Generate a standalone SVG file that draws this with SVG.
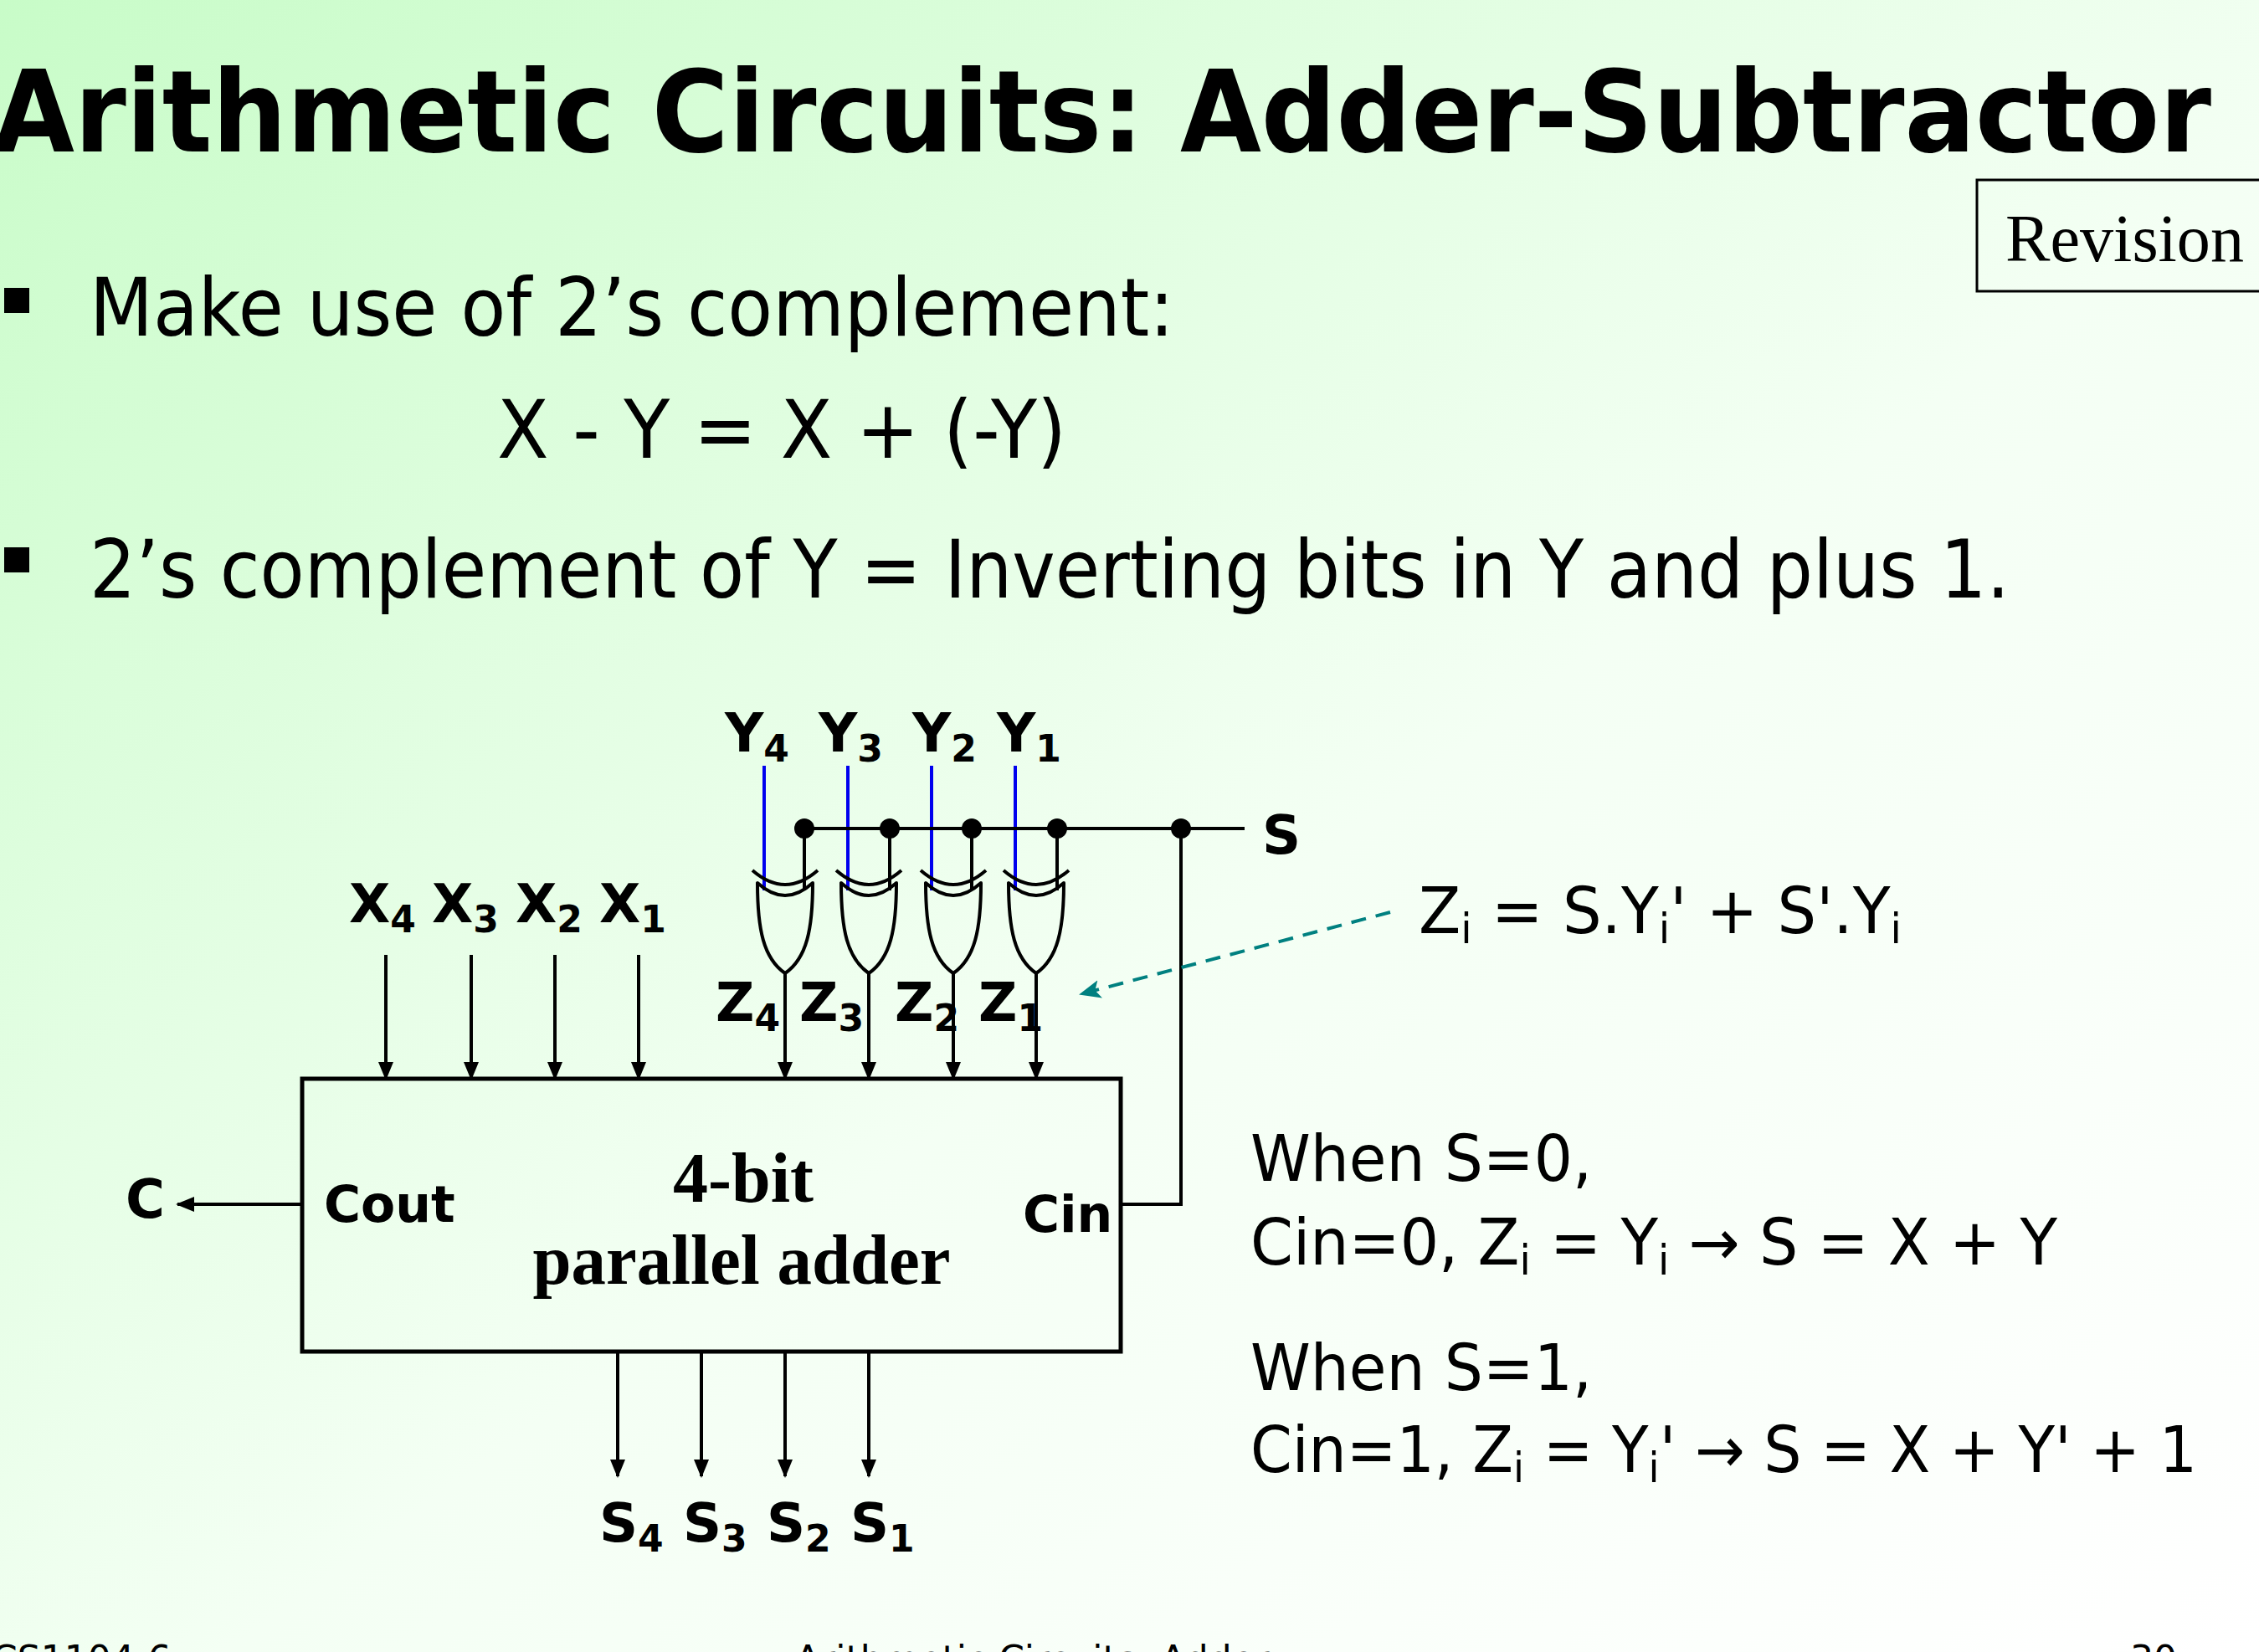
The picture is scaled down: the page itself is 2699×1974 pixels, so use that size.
<svg xmlns="http://www.w3.org/2000/svg" width="2699" height="1974" viewBox="0 0 2699 1974">
<defs>
<linearGradient id="bg" x1="0" y1="0" x2="1" y2="1">
<stop offset="0" stop-color="#c8fcc8"/><stop offset="0.55" stop-color="#f4fff4"/><stop offset="1" stop-color="#ffffff"/>
</linearGradient>
<marker id="ahb" markerWidth="22" markerHeight="22" refX="20" refY="11" orient="auto" markerUnits="userSpaceOnUse" viewBox="0 0 22 22"><path d="M0,2 L22,11 L0,20 Z" fill="#000"/></marker>
<marker id="aht" markerWidth="26" markerHeight="24" refX="24" refY="12" orient="auto" markerUnits="userSpaceOnUse" viewBox="0 0 26 24"><path d="M0,1 L26,12 L0,23 L6,12 Z" fill="#008080"/></marker>
<style>
.t{font-family:"DejaVu Sans",sans-serif;fill:#000}
.b{font-family:"DejaVu Sans",sans-serif;font-weight:bold;fill:#000}
.s{font-family:"Liberation Serif","DejaVu Serif",serif;fill:#000}
.w{stroke:#000;stroke-width:4;fill:none}
.y{stroke:#0000ee;stroke-width:4}
.g{stroke:#000;stroke-width:4;fill:none;stroke-linejoin:round}
</style>
</defs>
<rect width="2699" height="1974" fill="url(#bg)"/>
<text class="b" x="-8" y="181" font-size="136" textLength="2650" lengthAdjust="spacingAndGlyphs">Arithmetic Circuits: Adder-Subtractor</text>
<g id="revision"><rect x="2362" y="215" width="345" height="133" fill="none" stroke="#000" stroke-width="3"/>
<text class="s" x="2396" y="312" font-size="80" textLength="285" lengthAdjust="spacingAndGlyphs">Revision</text></g>
<rect x="5" y="344" width="30" height="30" fill="#000"/>
<text class="t" x="107" y="401" font-size="96" textLength="1296" lengthAdjust="spacingAndGlyphs">Make use of 2’s complement:</text>
<text class="t" x="594" y="547" font-size="96" textLength="680" lengthAdjust="spacingAndGlyphs">X - Y = X + (-Y)</text>
<rect x="5" y="654" width="30" height="30" fill="#000"/>
<text class="t" x="107" y="714" font-size="96" textLength="2294" lengthAdjust="spacingAndGlyphs">2’s complement of Y = Inverting bits in Y and plus 1.</text>

<g id="connectors">
<line class="y" x1="913" y1="915" x2="913" y2="1064"/>
<line class="y" x1="1013" y1="915" x2="1013" y2="1064"/>
<line class="y" x1="1113" y1="915" x2="1113" y2="1064"/>
<line class="y" x1="1213" y1="915" x2="1213" y2="1064"/>
<line class="w" x1="961" y1="990" x2="1487" y2="990"/>
<line class="w" x1="961" y1="990" x2="961" y2="1064"/>
<line class="w" x1="1063" y1="990" x2="1063" y2="1064"/>
<line class="w" x1="1161" y1="990" x2="1161" y2="1064"/>
<line class="w" x1="1263" y1="990" x2="1263" y2="1064"/>
<polyline class="w" points="1411,990 1411,1439 1339,1439"/>
<g fill="#000"><circle cx="961" cy="990" r="12"/><circle cx="1063" cy="990" r="12"/><circle cx="1161" cy="990" r="12"/><circle cx="1263" cy="990" r="12"/><circle cx="1411" cy="990" r="12"/></g>
<g class="w" marker-end="url(#ahb)">
<line x1="461" y1="1141" x2="461" y2="1289"/><line x1="563" y1="1141" x2="563" y2="1289"/><line x1="663" y1="1141" x2="663" y2="1289"/><line x1="763" y1="1141" x2="763" y2="1289"/>
<line x1="938" y1="1163" x2="938" y2="1289"/><line x1="1038" y1="1163" x2="1038" y2="1289"/><line x1="1139" y1="1163" x2="1139" y2="1289"/><line x1="1238" y1="1163" x2="1238" y2="1289"/>
<line x1="738" y1="1615" x2="738" y2="1764"/><line x1="838" y1="1615" x2="838" y2="1764"/><line x1="938" y1="1615" x2="938" y2="1764"/><line x1="1038" y1="1615" x2="1038" y2="1764"/>
<line x1="361" y1="1439" x2="212" y2="1439"/>
</g>
<line x1="1661" y1="1090" x2="1291" y2="1188" stroke="#008080" stroke-width="4" stroke-dasharray="18,12" marker-end="url(#aht)"/>
</g>

<g id="xor4"><path class="g" d="M905,1055 C905,1110 912,1145 938,1163 C964,1145 971,1110 971,1055 Q938,1085 905,1055 Z M899,1040 Q938,1074 977,1040"/></g>
<g id="xor3"><path class="g" d="M1005,1055 C1005,1110 1012,1145 1038,1163 C1064,1145 1071,1110 1071,1055 Q1038,1085 1005,1055 Z M999,1040 Q1038,1074 1077,1040"/></g>
<g id="xor2"><path class="g" d="M1106,1055 C1106,1110 1113,1145 1139,1163 C1165,1145 1172,1110 1172,1055 Q1139,1085 1106,1055 Z M1100,1040 Q1139,1074 1178,1040"/></g>
<g id="xor1"><path class="g" d="M1205,1055 C1205,1110 1212,1145 1238,1163 C1264,1145 1271,1110 1271,1055 Q1238,1085 1205,1055 Z M1199,1040 Q1238,1074 1277,1040"/></g>

<g id="adder"><rect x="361" y="1289" width="978" height="326" fill="none" stroke="#000" stroke-width="5"/>
<text class="s" x="888" y="1436" font-size="84" font-weight="bold" text-anchor="middle">4-bit</text>
<text class="s" x="886" y="1534" font-size="84" font-weight="bold" text-anchor="middle" textLength="499" lengthAdjust="spacingAndGlyphs">parallel adder</text>
<text class="b" x="387" y="1460" font-size="60">Cout</text>
<text class="b" x="1222" y="1472" font-size="60">Cin</text></g>

<g id="labels" class="b" font-size="64">
<text x="866" y="898">Y<tspan font-size="44" dy="12">4</tspan></text>
<text x="978" y="898">Y<tspan font-size="44" dy="12">3</tspan></text>
<text x="1090" y="898">Y<tspan font-size="44" dy="12">2</tspan></text>
<text x="1191" y="898">Y<tspan font-size="44" dy="12">1</tspan></text>
<text x="1508" y="1020">S</text>
<text x="417" y="1102">X<tspan font-size="44" dy="12">4</tspan></text>
<text x="516" y="1102">X<tspan font-size="44" dy="12">3</tspan></text>
<text x="616" y="1102">X<tspan font-size="44" dy="12">2</tspan></text>
<text x="716" y="1102">X<tspan font-size="44" dy="12">1</tspan></text>
<text x="855" y="1220">Z<tspan font-size="44" dy="12">4</tspan></text>
<text x="955" y="1220">Z<tspan font-size="44" dy="12">3</tspan></text>
<text x="1069" y="1220">Z<tspan font-size="44" dy="12">2</tspan></text>
<text x="1169" y="1220">Z<tspan font-size="44" dy="12">1</tspan></text>
<text x="716" y="1842">S<tspan font-size="44" dy="12">4</tspan></text>
<text x="816" y="1842">S<tspan font-size="44" dy="12">3</tspan></text>
<text x="916" y="1842">S<tspan font-size="44" dy="12">2</tspan></text>
<text x="1016" y="1842">S<tspan font-size="44" dy="12">1</tspan></text>
<text x="150" y="1455">C</text>
</g>

<g id="notes" class="t" font-size="76">
<text x="1695" y="1115" textLength="577" lengthAdjust="spacingAndGlyphs">Z<tspan font-size="50" dy="12">i</tspan><tspan dy="-12"> = S.Y</tspan><tspan font-size="50" dy="12">i</tspan><tspan dy="-12">' + S'.Y</tspan><tspan font-size="50" dy="12">i</tspan></text>
<text x="1494" y="1411" textLength="408" lengthAdjust="spacingAndGlyphs">When S=0,</text>
<text x="1494" y="1511" textLength="964" lengthAdjust="spacingAndGlyphs">Cin=0, Z<tspan font-size="50" dy="12">i</tspan><tspan dy="-12"> = Y</tspan><tspan font-size="50" dy="12">i</tspan><tspan dy="-12"> → S = X + Y</tspan></text>
<text x="1494" y="1661" textLength="408" lengthAdjust="spacingAndGlyphs">When S=1,</text>
<text x="1494" y="1759" textLength="1131" lengthAdjust="spacingAndGlyphs">Cin=1, Z<tspan font-size="50" dy="12">i</tspan><tspan dy="-12"> = Y</tspan><tspan font-size="50" dy="12">i</tspan><tspan dy="-12">' → S = X + Y' + 1</tspan></text>
</g>

<g class="t" font-size="44">
<text x="-10" y="1998">CS1104-6</text>
<text x="950" y="1998">Arithmetic Circuits: Adder</text>
<text x="2545" y="1998">30</text>
</g>
</svg>
